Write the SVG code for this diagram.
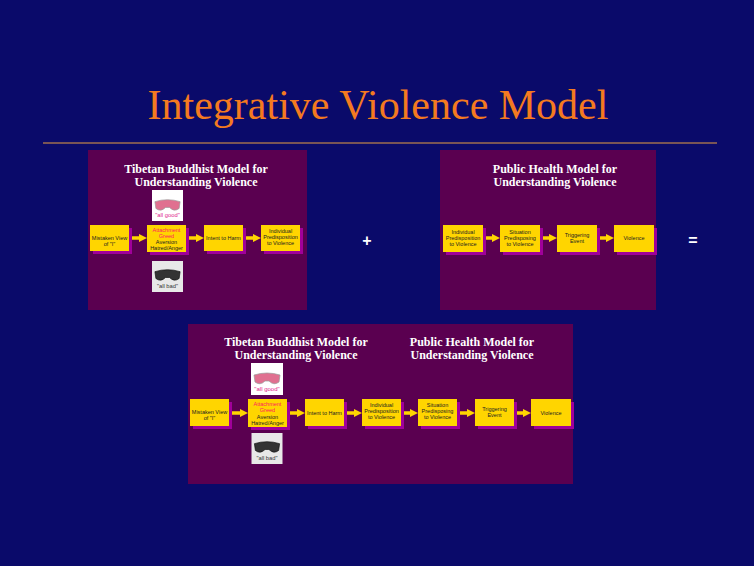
<svg xmlns="http://www.w3.org/2000/svg" width="754" height="566" viewBox="0 0 754 566">
<defs>
<style>
.panel{fill:#5a0050}
.box{fill:#ffd500}
.sh{fill:#a0009a}
.t{font-family:"Liberation Sans",Arial,sans-serif;font-size:5.5px;text-anchor:middle;fill:#222}
.r{fill:#ff2060}
.pt{font-family:"Liberation Serif","Times New Roman",serif;font-weight:bold;font-size:12px;text-anchor:middle;fill:#fff}
.ar{stroke:#ffd500;stroke-width:3.5;fill:none;marker-end:url(#ah)}
.gl{font-family:"Liberation Sans",Arial,sans-serif;font-size:6px;text-anchor:middle}
</style>
<marker id="ah" viewBox="0 0 10 10" refX="4" refY="5" markerWidth="2.4" markerHeight="2.4" orient="auto"><path d="M0,0L10,5L0,10z" fill="#ffd500"/></marker>
<symbol id="good" viewBox="0 0 32 32"><rect width="32" height="32" fill="#fff"/><path d="M3,12 Q16,8 29,12 L28,19 Q23,23 18,18 L14,18 Q9,23 4,19z" fill="#e07090" stroke="#999" stroke-width="0.7"/><text x="16" y="28" class="gl" fill="#e0208a">"all good"</text></symbol>
<symbol id="bad" viewBox="0 0 32 32"><rect width="32" height="32" fill="#e8e8e8"/><path d="M3,11 Q16,7 29,11 L28,18 Q23,22 18,17 L14,17 Q9,22 4,18z" fill="#333" stroke="#111" stroke-width="0.7"/><text x="16" y="28" class="gl" fill="#333">"all bad"</text></symbol>
</defs>
<rect width="754" height="566" fill="#0a0a6a"/>
<text x="378" y="119" font-family="Liberation Serif,'Times New Roman',serif" font-size="42" fill="#f47a20" text-anchor="middle">Integrative Violence Model</text>
<line x1="43" y1="143" x2="717" y2="143" stroke="#e8a040" stroke-width="1"/>

<g id="panel1">
<rect class="panel" x="88" y="150" width="219" height="160"/>
<text class="pt" x="196" y="173">Tibetan Buddhist Model for</text>
<text class="pt" x="196" y="186">Understanding Violence</text>
<use href="#good" x="152" y="190" width="31" height="31"/>
<use href="#bad" x="152" y="261" width="31" height="31"/>
</g>
<g id="p1n1"><rect class="sh" x="93" y="228" width="39" height="26"/><rect class="box" x="90" y="225" width="39" height="26"/><text class="t" x="109.5" y="240">Mistaken View</text><text class="t" x="109.5" y="246">of "I"</text></g>
<g id="p1n2"><rect class="sh" x="150" y="228" width="39" height="27"/><rect class="box" x="147" y="225" width="39" height="27"/><text class="t r" x="166.5" y="232">Attachment</text><text class="t r" x="166.5" y="238">Greed</text><text class="t" x="166.5" y="244">Aversion</text><text class="t" x="166.5" y="250">Hatred/Anger</text></g>
<g id="p1n3"><rect class="sh" x="207" y="228" width="39" height="26"/><rect class="box" x="204" y="225" width="39" height="26"/><text class="t" x="223.5" y="240">Intent to Harm</text></g>
<g id="p1n4"><rect class="sh" x="264" y="228" width="39" height="26"/><rect class="box" x="261" y="225" width="39" height="26"/><text class="t" x="280.5" y="233">Individual</text><text class="t" x="280.5" y="239">Predisposition</text><text class="t" x="280.5" y="245">to Violence</text></g>

<text x="367" y="246" font-family="Liberation Sans,Arial,sans-serif" font-weight="bold" font-size="16" fill="#fff" text-anchor="middle">+</text>

<g id="panel2">
<rect class="panel" x="440" y="150" width="216" height="160"/>
<text class="pt" x="555" y="173">Public Health Model for</text>
<text class="pt" x="555" y="186">Understanding Violence</text>
</g>
<g id="p2n1"><rect class="sh" x="446" y="228" width="40" height="27"/><rect class="box" x="443" y="225" width="40" height="27"/><text class="t" x="463" y="234">Individual</text><text class="t" x="463" y="240">Predisposition</text><text class="t" x="463" y="246">to Violence</text></g>
<g id="p2n2"><rect class="sh" x="503" y="228" width="40" height="27"/><rect class="box" x="500" y="225" width="40" height="27"/><text class="t" x="520" y="234">Situation</text><text class="t" x="520" y="240">Predisposing</text><text class="t" x="520" y="246">to Violence</text></g>
<g id="p2n3"><rect class="sh" x="560" y="228" width="40" height="27"/><rect class="box" x="557" y="225" width="40" height="27"/><text class="t" x="577" y="237">Triggering</text><text class="t" x="577" y="243">Event</text></g>
<g id="p2n4"><rect class="sh" x="617" y="228" width="40" height="27"/><rect class="box" x="614" y="225" width="40" height="27"/><text class="t" x="634" y="240">Violence</text></g>

<text x="693" y="246" font-family="Liberation Sans,Arial,sans-serif" font-weight="bold" font-size="16" fill="#fff" text-anchor="middle">=</text>

<g id="panel3">
<rect class="panel" x="188" y="324" width="385" height="160"/>
<text class="pt" x="296" y="346">Tibetan Buddhist Model for</text>
<text class="pt" x="296" y="359">Understanding Violence</text>
<text class="pt" x="472" y="346">Public Health Model for</text>
<text class="pt" x="472" y="359">Understanding Violence</text>
<use href="#good" x="251" y="363" width="32" height="32"/>
<use href="#bad" x="251" y="433" width="32" height="31"/>
</g>
<g id="p3n1"><rect class="sh" x="193" y="402" width="39" height="27"/><rect class="box" x="190" y="399" width="39" height="27"/><text class="t" x="209.5" y="414">Mistaken View</text><text class="t" x="209.5" y="420">of "I"</text></g>
<g id="p3n2"><rect class="sh" x="251" y="402" width="39" height="28"/><rect class="box" x="248" y="399" width="39" height="28"/><text class="t r" x="267.5" y="406">Attachment</text><text class="t r" x="267.5" y="412">Greed</text><text class="t" x="267.5" y="419">Aversion</text><text class="t" x="267.5" y="425">Hatred/Anger</text></g>
<g id="p3n3"><rect class="sh" x="308" y="402" width="39" height="27"/><rect class="box" x="305" y="399" width="39" height="27"/><text class="t" x="324.5" y="415">Intent to Harm</text></g>
<g id="p3n4"><rect class="sh" x="365" y="402" width="39" height="27"/><rect class="box" x="362" y="399" width="39" height="27"/><text class="t" x="381.5" y="407">Individual</text><text class="t" x="381.5" y="413">Predisposition</text><text class="t" x="381.5" y="419">to Violence</text></g>
<g id="p3n5"><rect class="sh" x="421" y="402" width="39" height="27"/><rect class="box" x="418" y="399" width="39" height="27"/><text class="t" x="437.5" y="407">Situation</text><text class="t" x="437.5" y="413">Predisposing</text><text class="t" x="437.5" y="419">to Violence</text></g>
<g id="p3n6"><rect class="sh" x="478" y="402" width="39" height="27"/><rect class="box" x="475" y="399" width="39" height="27"/><text class="t" x="494.5" y="411">Triggering</text><text class="t" x="494.5" y="417">Event</text></g>
<g id="p3n7"><rect class="sh" x="534" y="402" width="40" height="27"/><rect class="box" x="531" y="399" width="40" height="27"/><text class="t" x="551" y="415">Violence</text></g>

<g id="connectors">
<line class="ar" x1="132" y1="238" x2="142" y2="238"/>
<line class="ar" x1="189" y1="238" x2="199" y2="238"/>
<line class="ar" x1="246" y1="238" x2="256" y2="238"/>
<line class="ar" x1="486" y1="238" x2="495" y2="238"/>
<line class="ar" x1="543" y1="238" x2="552" y2="238"/>
<line class="ar" x1="600" y1="238" x2="609" y2="238"/>
<line class="ar" x1="232" y1="413" x2="243" y2="413"/>
<line class="ar" x1="290" y1="413" x2="300" y2="413"/>
<line class="ar" x1="347" y1="413" x2="357" y2="413"/>
<line class="ar" x1="404" y1="413" x2="413" y2="413"/>
<line class="ar" x1="460" y1="413" x2="470" y2="413"/>
<line class="ar" x1="517" y1="413" x2="526" y2="413"/>
</g>
</svg>
